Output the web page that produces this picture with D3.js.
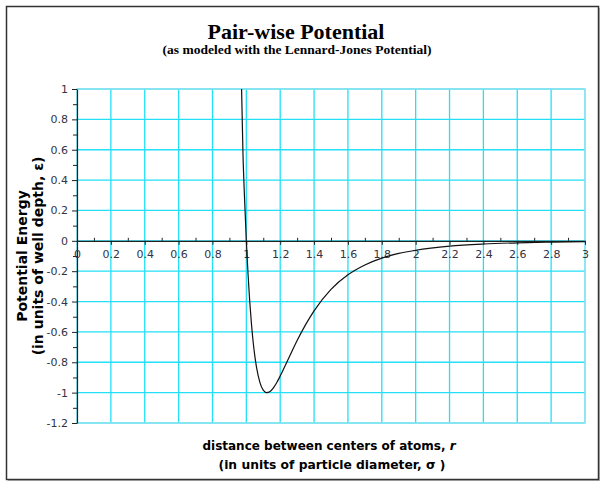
<!DOCTYPE html>
<html lang="en">
<head>
<meta charset="UTF-8">
<title>Pair-wise Potential</title>
<script src="https://d3js.org/d3.v7.min.js"></script>
<style>
  body { margin: 0; background: #fff; }
  .tick text { font-family: "DejaVu Sans", Verdana, sans-serif; font-size: 11px; fill: #333344; }
</style>
</head>
<body>
<svg width="605" height="487"></svg>
<script>
// distance r (units of sigma) and potential energy (units of epsilon)
const distance = [0.972, 0.98, 0.99, 1.0, 1.01, 1.02, 1.03, 1.04, 1.05, 1.06, 1.08, 1.10,
                  1.12, 1.14, 1.16, 1.18, 1.20, 1.25, 1.30, 1.35, 1.40, 1.50, 1.60, 1.70,
                  1.80, 1.90, 2.00, 2.20, 2.40, 2.60, 2.80, 3.00];
const energy = [1.0, 0.582, 0.264, 0, -0.218, -0.398, -0.544, -0.663, -0.758, -0.832, -0.932, -0.984,
                -1.0, -0.992, -0.968, -0.933, -0.891, -0.774, -0.657, -0.552, -0.461, -0.32, -0.224, -0.159,
                -0.114, -0.083, -0.062, -0.035, -0.021, -0.013, -0.008, -0.005];
const xTicks = [0, 0.2, 0.4, 0.6, 0.8, 1, 1.2, 1.4, 1.6, 1.8, 2, 2.2, 2.4, 2.6, 2.8, 3];
const yTicks = [1, 0.8, 0.6, 0.4, 0.2, 0, -0.2, -0.4, -0.6, -0.8, -1, -1.2];
const xMinor = d3.range(0.1, 3, 0.2);
const yMinor = d3.range(-1.1, 1, 0.2);

const svg = d3.select("svg");

// outer frame
svg.append("rect")
   .attr("x", 8).attr("y", 8).attr("width", 592).attr("height", 473)
   .attr("fill", "#bbb");
svg.append("rect")
   .attr("x", 6.5).attr("y", 6.5).attr("width", 592).attr("height", 473)
   .attr("fill", "#fff").attr("stroke", "#333").attr("stroke-width", 1.5);

const x = d3.scaleLinear().domain([0, 3]).range([77, 585]);
const y = d3.scaleLinear().domain([-1.2, 1]).range([423, 89]);

// grid
svg.append("g").selectAll("line").data(xTicks).join("line")
   .attr("x1", d => x(d)).attr("x2", d => x(d))
   .attr("y1", y(1)).attr("y2", y(-1.2))
   .attr("stroke", "#22e0f8").attr("stroke-width", 1.3);
svg.append("g").selectAll("line").data(yTicks).join("line")
   .attr("y1", d => y(d)).attr("y2", d => y(d))
   .attr("x1", x(0)).attr("x2", x(3))
   .attr("stroke", "#22e0f8").attr("stroke-width", 1.3);
svg.append("rect")
   .attr("x", x(0)).attr("y", y(1))
   .attr("width", x(3) - x(0)).attr("height", y(-1.2) - y(1))
   .attr("fill", "none").attr("stroke", "#9fe3ee").attr("stroke-width", 1.3);

// y axis
svg.append("g")
   .attr("transform", `translate(${x(0)},0)`)
   .call(d3.axisLeft(y).tickValues(yMinor).tickSize(4).tickFormat(""))
   .call(g => g.select(".domain").remove())
   .call(g => g.selectAll(".tick line").attr("stroke", "#222"));
svg.append("g")
   .attr("transform", `translate(${x(0)},0)`)
   .call(d3.axisLeft(y).tickValues(yTicks).tickSize(5).tickPadding(4).tickSizeOuter(0)
          .tickFormat(d => d3.format("")(d).replace("−", "-")))
   .call(g => g.select(".domain").attr("stroke", "#222").attr("stroke-width", 1.2))
   .call(g => g.selectAll(".tick line").attr("stroke", "#222"));

// x axis at zero
svg.append("g")
   .attr("transform", `translate(0,${y(0)})`)
   .call(d3.axisTop(x).tickValues(xMinor).tickSize(3).tickFormat(""))
   .call(g => g.select(".domain").remove())
   .call(g => g.selectAll(".tick line").attr("stroke", "#222"));
svg.append("g")
   .attr("transform", `translate(0,${y(0)})`)
   .call(d3.axisBottom(x).tickValues(xTicks).tickSize(4).tickPadding(5).tickSizeOuter(0)
          .tickFormat(d3.format("")))
   .call(g => g.select(".domain").attr("stroke", "#222").attr("stroke-width", 1.2))
   .call(g => g.selectAll(".tick line").attr("stroke", "#222"));

// curve
const line = d3.line()
   .x((d, i) => x(distance[i]))
   .y(d => y(d))
   .curve(d3.curveMonotoneX);
svg.append("path")
   .datum(energy)
   .attr("d", line)
   .attr("fill", "none")
   .attr("stroke", "#111")
   .attr("stroke-width", 1.2);

// titles
svg.append("text")
   .attr("x", 296).attr("y", 39)
   .attr("text-anchor", "middle")
   .style("font-family", "'Liberation Serif', 'Times New Roman', serif")
   .style("font-weight", "bold").style("font-size", "22px")
   .text("Pair-wise Potential");
svg.append("text")
   .attr("x", 297).attr("y", 54)
   .attr("text-anchor", "middle")
   .style("font-family", "'Liberation Serif', 'Times New Roman', serif")
   .style("font-weight", "bold").style("font-size", "13.5px")
   .text("(as modeled with the Lennard-Jones Potential)");

const sans = "'DejaVu Sans', Verdana, sans-serif";
const yl = svg.append("text")
   .attr("transform", "translate(27,256) rotate(-90)")
   .attr("text-anchor", "middle")
   .style("font-family", sans).style("font-weight", "bold").style("font-size", "14px");
yl.append("tspan").attr("x", 0).attr("dy", 0).text("Potential Energy");
yl.append("tspan").attr("x", 0).attr("dy", 16).text("(in units of well depth, ε)");

const xl = svg.append("text")
   .attr("text-anchor", "middle")
   .style("font-family", sans).style("font-weight", "bold").style("font-size", "12px");
xl.append("tspan").attr("x", 329).attr("y", 450).text("distance between centers of atoms, ");
xl.append("tspan").style("font-style", "italic").text("r");
svg.append("text")
   .attr("x", 332).attr("y", 469)
   .attr("text-anchor", "middle")
   .style("font-family", sans).style("font-weight", "bold").style("font-size", "12.3px")
   .text("(in units of particle diameter, σ )");
</script>
</body>
</html>
